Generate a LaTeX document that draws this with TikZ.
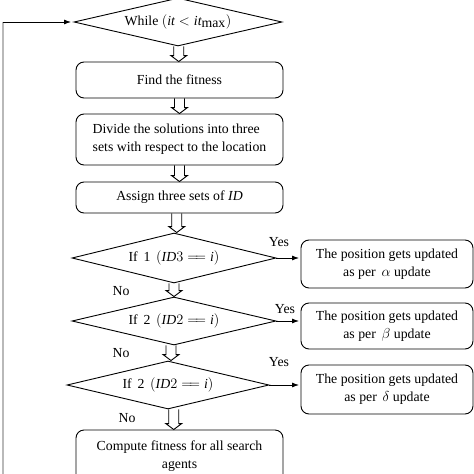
\documentclass[tikz,border=0pt]{standalone}
\usepackage{fontspec}
\setmainfont{Liberation Serif}
\usetikzlibrary{shapes.geometric,calc,arrows.meta}

% hollow block arrow between two stacked nodes
\newcommand{\hollowdown}[2]{%
  \draw[hollow] let \p1=(#1.south), \p2=(#2.north), \p3=($(#1.south)!0.5!(#2.north)$) in
    (\x3-5pt,\y1) -- (\x3-5pt,\y2+6pt) -- (\x3-8pt,\y2+6pt) -- (\x3,\y2)
    -- (\x3+8pt,\y2+6pt) -- (\x3+5pt,\y2+6pt) -- (\x3+5pt,\y1);}
\newcommand{\eqeq}{\mathrel{=\mkern-4mu=}}

\begin{document}
\begin{tikzpicture}[x=1pt,y=1pt,line width=0.9pt]
	\tikzstyle{every node}+=[inner sep=0pt, font=\fontsize{13.8}{18}\selectfont]
	\tikzstyle{cond}=[draw, diamond, aspect=4.3, minimum width=204pt, minimum height=48pt]
	\tikzstyle{proc}=[draw, rectangle, rounded corners=8pt, minimum width=207pt]
	\tikzstyle{upd}=[draw, rectangle, rounded corners=8pt, minimum width=172pt, align=center]
	\tikzstyle{hollow}=[line width=0.9pt]
	\tikzstyle{yesarr}=[-{Latex[length=7pt,width=5pt]}, shorten >=1.5pt]
	\useasboundingbox (0,0) rectangle (474,-474);
	\clip (0,0) rectangle (474,-474);
	% main column
	\node [cond, minimum width=208pt] (while) at (178,-22) {While $\left(\textit{it}<\textit{it}_{\textrm{max}}\right)$};
	\node [proc, minimum height=36pt] (fit) at (179.5,-80) {Find the fitness};
	\node [proc, minimum height=51pt, align=left] (divide) at (179.5,-139.5) {Divide the solutions into three\\sets with respect to the location};
	\node [proc, minimum height=31pt] (assign) at (179.5,-197.5) {Assign three sets of \textit{ID}};
	\node [cond, minimum height=50pt] (if1) at (174,-258) {If\, 1\, $(\textit{ID}3\eqeq\textit{i})$\hspace{8pt}};
	\node [cond] (if2) at (174,-321) {If\, 2\, $(\textit{ID}2\eqeq\textit{i})$\hspace{8pt}};
	\node [cond, minimum width=202pt] (if3) at (168,-385) {If\, 2\, $(\textit{ID}2\eqeq\textit{i})$\hspace{8pt}};
	\node [proc, minimum height=52pt, align=center] (compute) at (179.5,-456) {Compute fitness for all search\\agents};
	% updates
	\node [upd, minimum height=48pt] (upa) at (387,-264) {The position gets updated\\as per\, $\alpha$ update};
	\node [upd, minimum height=46pt] (upb) at (387,-326) {The position gets updated\\as per\, $\beta$ update};
	\node [upd, minimum height=49pt] (upd) at (387,-389.5) {The position gets updated\\as per\, $\delta$ update};
	% labels
	\node (yes1) at (279,-242) {Yes};
	\node (yes2) at (285,-309) {Yes};
	\node (yes3) at (279,-362) {Yes};
	\node (no1) at (121,-291) {No};
	\node (no2) at (121,-353) {No};
	\node (no3) at (127,-418) {No};
	% block arrows
	\hollowdown{while}{fit}
	\hollowdown{fit}{divide}
	\hollowdown{divide}{assign}
	\hollowdown{assign}{if1}
	\hollowdown{if1}{if2}
	\hollowdown{if2}{if3}
	\hollowdown{if3}{compute}
	% yes branches
	\draw [yesarr] (if1.east) -- (if1.east -| upa.west);
	\draw [yesarr] (if2.east) -- (if2.east -| upb.west);
	\draw [yesarr] (if3.east) -- (if3.east -| upd.west);
	% loop back
	\coordinate (loopbot) at (3,-480);
	\coordinate (loopcorner) at (3,-22);
	\draw [gray!55, line width=1.2pt] (loopbot) -- (loopcorner);
	\draw [yesarr, shorten >=2.5pt] (loopcorner) -- (while.west);
\end{tikzpicture}
\end{document}
